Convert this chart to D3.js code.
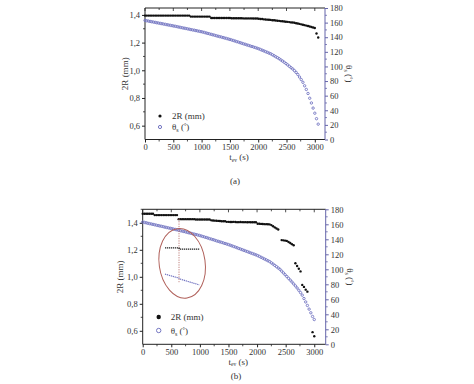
<!DOCTYPE html>
<html><head><meta charset="utf-8">
<script src="https://cdn.jsdelivr.net/npm/d3@7/dist/d3.min.js"></script>
<style>
body{margin:0;background:#fff;}
svg{display:block;}
text{font-family:"Liberation Serif","Times New Roman",serif;}
</style>
</head><body>
<svg id="c" width="474" height="384"></svg>
<script>
// ---------------- DATA ----------------
// Panel (a)
const timesA = [0,30,60,90,120,150,180,210,240,270,300,330,360,390,420,450,480,510,540,570,600,630,660,690,720,750,780,
810,840,870,900,930,960,990,1020,1050,1080,1110,1140,1170,1200,1230,1260,1290,1320,1350,1380,1410,1440,1470,1500,
1530,1560,1590,1620,1650,1680,1710,1740,1770,1800,1830,1860,1890,1920,1950,1980,2010,2040,2070,2100,2130,2160,2190,
2220,2250,2280,2310,2340,2370,2400,2430,2460,2490,2520,2550,2580,2610,2640,2670,2700,2730,2760,2790,2820,2850,2880,
2910,2940,2970,3000,3030,3060];
const diamA = [1.395,1.395,1.395,1.395,1.395,1.395,1.395,1.395,1.395,1.395,1.395,1.395,1.395,1.395,1.395,1.395,1.395,1.395,1.395,1.395,1.395,1.395,1.395,1.395,1.395,1.395,1.395,
1.388,1.388,1.388,1.388,1.388,1.388,1.388,1.388,1.388,1.388,1.388,1.388,1.378,1.378,1.378,1.378,1.378,1.378,1.378,1.378,1.378,1.378,1.378,1.378,
1.376,1.376,1.376,1.376,1.376,1.376,1.376,1.375,1.375,1.375,1.375,1.375,1.375,1.374,1.374,1.374,1.372,1.371,1.370,1.368,1.367,1.366,1.365,
1.364,1.362,1.361,1.360,1.358,1.357,1.355,1.354,1.353,1.351,1.350,1.348,1.346,1.345,1.343,1.340,1.338,1.335,1.332,1.329,1.326,1.323,1.320,
1.316,1.313,1.309,1.305,1.266,1.237];
const thetaA = [163.0,162.5,162.1,161.6,161.2,160.7,160.3,159.8,159.4,158.9,158.5,158.0,157.6,157.1,156.7,156.2,155.8,155.3,154.9,154.4,153.9,153.4,152.9,152.4,152.0,151.5,151.0,
150.5,150.0,149.6,149.1,148.6,148.1,147.6,147.1,146.5,145.8,145.2,144.6,143.9,143.3,142.7,142.0,141.4,140.8,140.2,139.5,138.9,138.3,137.6,137.0,
136.3,135.5,134.8,134.0,133.3,132.5,131.8,131.0,130.3,129.5,128.8,128.0,127.3,126.5,125.8,125.0,124.2,123.2,122.2,121.3,120.3,119.3,118.3,
117.4,116.0,114.7,113.3,112.0,110.6,109.0,107.4,105.7,104.0,102.2,100.2,98.3,96.6,94.2,91.8,89.0,85.5,82.0,78.3,73.5,68.5,63.0,
56.5,50.0,43.0,36.0,28.5,21.0];

// Panel (b)
const timesB = [0,30,60,90,120,150,180,210,240,270,300,330,360,390,420,450,480,510,540,570,600,630,660,690,720,750,780,
810,840,870,900,930,960,990,1020,1050,1080,1110,1140,1170,1200,1230,1260,1290,1320,1350,1380,1410,1440,1470,1500,
1530,1560,1590,1620,1650,1680,1710,1740,1770,1800,1830,1860,1890,1920,1950,1980,2010,2040,2070,2100,2130,2160,2190,
2220,2250,2280,2310,2340,2370,2400,2430,2460,2490,2520,2550,2580,2610,2640,2670,2700,2730,2760,2790,2820,2850,2880,
2910,2940,2970,3000];
const diamB = [1.467,1.467,1.467,1.467,1.467,1.467,1.467,1.457,1.457,1.457,1.457,1.457,1.457,1.457,1.457,1.457,1.457,1.457,1.457,1.457,1.457,1.427,1.427,1.427,1.427,1.427,1.427,
1.427,1.427,1.427,1.427,1.424,1.424,1.424,1.424,1.424,1.424,1.424,1.424,1.424,1.418,1.417,1.416,1.415,1.414,1.413,1.412,1.412,1.411,1.407,1.407,
1.406,1.406,1.407,1.406,1.405,1.405,1.406,1.405,1.405,1.405,1.404,1.405,1.404,1.404,1.404,1.404,1.393,1.393,1.392,1.391,1.390,1.390,1.389,
1.388,1.383,1.375,1.366,1.358,1.350,null,1.272,1.270,1.268,1.266,1.258,1.250,1.242,1.234,1.100,1.080,1.060,1.040,0.940,0.925,0.905,0.890,
null,null,0.590,0.560];
const thetaB = [163.0,162.5,162.0,161.4,160.9,160.4,159.9,159.4,158.8,158.3,157.8,157.3,156.8,156.2,155.7,155.2,154.7,154.2,153.6,153.1,152.6,152.0,151.5,150.9,150.4,149.8,149.2,
148.6,148.1,147.5,146.9,146.4,145.8,145.2,144.5,143.8,143.1,142.4,141.7,140.9,140.2,139.5,138.8,138.0,137.3,136.6,135.9,135.2,134.4,133.7,133.0,
132.1,131.3,130.4,129.6,128.7,127.8,127.0,126.1,125.3,124.4,123.6,122.7,121.8,121.0,120.1,119.3,118.3,117.2,116.0,114.9,113.7,112.6,111.4,
110.3,108.6,106.9,105.2,103.5,101.7,100.0,97.6,95.2,92.8,90.4,88.0,85.6,83.1,80.5,77.9,75.1,72.0,68.9,65.5,61.0,56.5,51.8,
46.9,42.0,37.1,33.0];

const xTicks = [0,500,1000,1500,2000,2500,3000];
const leftTicks = [0.6,0.8,1.0,1.2,1.4];
const rightTicks = [0,20,40,60,80,100,120,140,160,180];

// ---------------- STYLE ----------------
const BLUE = "#7476c2";
const AXBLUE = "#6565aa";
const TXT = "#333";

const svg = d3.select("#c");

function drawPanel(cfg){
  const g = svg.append("g");
  const x = d3.scaleLinear().domain(cfg.xDom).range([cfg.left, cfg.right]);
  const yL = d3.scaleLinear().domain(cfg.yDom).range([cfg.bottom, cfg.top]);
  const yR = d3.scaleLinear().domain([0,180]).range([cfg.bottom, cfg.rTop]);

  g.append("line").attr("x1",cfg.left).attr("x2",cfg.right).attr("y1",cfg.top).attr("y2",cfg.top)
    .attr("stroke","#222").attr("stroke-width",1);
  const topTicks = d3.range(0, cfg.xDom[1], 250);
  g.selectAll(null).data(topTicks).join("line")
    .attr("x1",d=>x(d)).attr("x2",d=>x(d)).attr("y1",cfg.top).attr("y2",d=>cfg.top+(d%500===0?3:2))
    .attr("stroke","#222").attr("stroke-width",0.8);

  const xa = g.append("g").attr("transform",`translate(0,${cfg.bottom})`)
    .call(d3.axisBottom(x).tickValues(xTicks).tickSize(3).tickPadding(1.5).tickFormat(d3.format("d")));
  xa.select(".domain").attr("stroke","#222").attr("d",`M${cfg.left},0H${cfg.right}`);
  xa.selectAll(".tick line").attr("stroke","#222");
  xa.selectAll("text").attr("font-size",8.5).attr("fill",TXT).attr("font-family","Liberation Serif");
  g.selectAll(null).data(d3.range(250, cfg.xDom[1], 500)).join("line")
    .attr("x1",d=>x(d)).attr("x2",d=>x(d)).attr("y1",cfg.bottom).attr("y2",cfg.bottom+2)
    .attr("stroke","#222").attr("stroke-width",0.8);

  const la = g.append("g").attr("transform",`translate(${cfg.left},0)`)
    .call(d3.axisLeft(yL).tickValues(leftTicks).tickSize(3).tickPadding(2).tickFormat(d=>d3.format(".1f")(d).replace(".",",")));
  la.select(".domain").attr("stroke","#222").attr("d",`M0,${cfg.bottom}V${cfg.top}`);
  la.selectAll(".tick line").attr("stroke","#222");
  la.selectAll("text").attr("font-size",8.5).attr("fill",TXT).attr("font-family","Liberation Serif");
  g.selectAll(null).data([0.7,0.9,1.1,1.3].concat(cfg.yDom[1]>=1.5?[1.5]:[])).join("line")
    .attr("x1",cfg.left-2).attr("x2",cfg.left).attr("y1",d=>yL(d)).attr("y2",d=>yL(d))
    .attr("stroke","#222").attr("stroke-width",0.8);

  const ra = g.append("g").attr("transform",`translate(${cfg.right},0)`)
    .call(d3.axisRight(yR).tickValues(rightTicks).tickSize(3).tickPadding(2).tickFormat(d3.format("d")));
  ra.select(".domain").attr("stroke",AXBLUE).attr("d",`M0,${cfg.bottom}V${cfg.top}`);
  ra.selectAll(".tick line").attr("stroke",AXBLUE);
  ra.selectAll("text").attr("font-size",8.5).attr("fill",TXT).attr("font-family","Liberation Serif");
  g.selectAll(null).data(d3.range(10,180,20)).join("line")
    .attr("x1",cfg.right).attr("x2",cfg.right+2).attr("y1",d=>yR(d)).attr("y2",d=>yR(d))
    .attr("stroke",AXBLUE).attr("stroke-width",0.8);

  const th = cfg.times.map((t,i)=>({t, v:cfg.theta[i]})).filter(d=>d.v!=null);
  g.selectAll(null).data(th).join("circle")
    .attr("cx",d=>x(d.t)).attr("cy",d=>yR(d.v)).attr("r",1.2)
    .attr("fill","none").attr("stroke",BLUE).attr("stroke-width",0.9);
  const dm = cfg.times.map((t,i)=>({t, v:cfg.diam[i]})).filter(d=>d.v!=null);
  g.selectAll(null).data(dm).join("circle")
    .attr("cx",d=>x(d.t)).attr("cy",d=>yL(d.v)).attr("r",1.2)
    .attr("fill","#111");

  const ly = (cfg.top+cfg.bottom)/2;
  g.append("text").attr("transform",`translate(${cfg.yTitleX},${ly}) rotate(-90)`)
    .attr("text-anchor","middle").attr("font-size",9).attr("fill",TXT).text("2R (mm)");
  const rt = g.append("text").attr("transform",`translate(${cfg.right+21},${ly}) rotate(90)`)
    .attr("text-anchor","middle").attr("font-size",9).attr("fill",TXT);
  rt.append("tspan").text("θ");
  rt.append("tspan").attr("font-size",6).attr("dy",2).text("s");
  rt.append("tspan").attr("dy",-2).text(" (");
  rt.append("tspan").attr("font-size",6).attr("dy",-2).text("°");
  rt.append("tspan").attr("dy",2).text(")");

  const xt = g.append("text").attr("x",(cfg.left+cfg.right)/2+4).attr("y",cfg.bottom+20.5)
    .attr("text-anchor","middle").attr("font-size",9).attr("fill",TXT);
  xt.append("tspan").text("t");
  xt.append("tspan").attr("font-size",5.5).attr("dy",1.5).text("ev");
  xt.append("tspan").attr("dy",-1.5).text(" (s)");

  const lgX = cfg.left + cfg.legDX;
  g.append("circle").attr("cx",lgX).attr("cy",cfg.leg1).attr("r",cfg.legR).attr("fill","#111");
  g.append("text").attr("x",lgX+12).attr("y",cfg.leg1+3).attr("font-size",9).attr("fill",TXT).text("2R (mm)");
  g.append("circle").attr("cx",lgX).attr("cy",cfg.leg2).attr("r",cfg.legR).attr("fill","none").attr("stroke",BLUE).attr("stroke-width",1);
  const lt = g.append("text").attr("x",lgX+12).attr("y",cfg.leg2+3).attr("font-size",9).attr("fill",TXT);
  lt.append("tspan").text("θ");
  lt.append("tspan").attr("font-size",6).attr("dy",2).text("s");
  lt.append("tspan").attr("dy",-2).text(" (");
  lt.append("tspan").attr("font-size",6).attr("dy",-2).text("°");
  lt.append("tspan").attr("dy",2).text(")");

  g.append("text").attr("x",cfg.capX).attr("y",cfg.capY).attr("text-anchor","middle")
    .attr("font-size",9).attr("fill",TXT).text(cfg.caption);

  return {g,x,yL,yR};
}

drawPanel({left:145,right:325,top:8,rTop:8,bottom:139.5,xDom:[0,3180],yDom:[0.5,1.45],
  times:timesA,diam:diamA,theta:thetaA,yTitleX:128,legDX:15,leg1:116,leg2:127,legR:1.6,caption:"(a)",capX:235,capY:184});

const pb = drawPanel({left:142.7,right:325.7,top:209.3,rTop:209.3,bottom:344.3,xDom:[0,3200],yDom:[0.5,1.5],
  times:timesB,diam:diamB,theta:thetaB,yTitleX:123,legDX:16,leg1:317,leg2:330.5,legR:2.2,caption:"(b)",capX:236,capY:379});

(function(){
  const {g,x,yL} = pb;
  const RED = "#b0605a";
  g.append("ellipse").attr("cx",x(690)).attr("cy",yL(1.0999)).attr("rx",23).attr("ry",35)
    .attr("transform",`rotate(-8,${x(690)},${yL(1.0999)})`)
    .attr("fill","none").attr("stroke",RED).attr("stroke-width",1);
  g.append("line").attr("x1",x(635)).attr("x2",x(635)).attr("y1",yL(1.43)).attr("y2",yL(0.96))
    .attr("stroke",RED).attr("stroke-width",0.8).attr("stroke-dasharray","1.2,1.2");
  const ins1 = [[390,1.215],[635,1.215],[640,1.205],[990,1.205]];
  g.append("path").attr("d",d3.line().x(d=>x(d[0])).y(d=>yL(d[1]))(ins1))
    .attr("fill","none").attr("stroke","#222").attr("stroke-width",1.2).attr("stroke-dasharray","1.3,0.7");
  const ins2 = [[390,1.02],[635,0.99],[640,0.985],[990,0.94]];
  g.append("path").attr("d",d3.line().x(d=>x(d[0])).y(d=>yL(d[1]))(ins2))
    .attr("fill","none").attr("stroke",BLUE).attr("stroke-width",1.2).attr("stroke-dasharray","1.3,0.7");
})();
</script>
</body></html>
